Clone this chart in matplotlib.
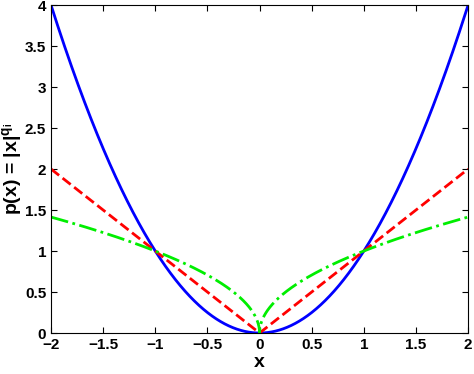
import numpy as np
import matplotlib
matplotlib.use('Agg')
import matplotlib.pyplot as plt

# exponents q_i of p(x) = |x|^q
exponents = [2.0, 1.0, 0.5]
colors = ['#0000ff', '#ff0000', '#00ee00']
styles = ['-', '--', '-.']
xTicks = [-2, -1.5, -1, -0.5, 0, 0.5, 1, 1.5, 2]
yTicks = [0, 0.5, 1, 1.5, 2, 2.5, 3, 3.5, 4]

plt.rcParams['font.family'] = ['Liberation Sans', 'DejaVu Sans']
plt.rcParams['font.weight'] = 'bold'
plt.rcParams['mathtext.fontset'] = 'custom'
plt.rcParams['mathtext.rm'] = 'Liberation Sans:bold'
plt.rcParams['mathtext.it'] = 'Liberation Sans:bold'
plt.rcParams['mathtext.bf'] = 'Liberation Sans:bold'

fig = plt.figure(figsize=(4.74, 3.74), dpi=100)
ax = fig.add_axes([0.1076, 0.1096, 0.880, 0.877])

x = np.linspace(-2, 2, 2001)
for q, c, s in zip(exponents, colors, styles):
    ax.plot(x, np.abs(x) ** q, color=c, linestyle=s, linewidth=2)

ax.set_xlim(-2, 2)
ax.set_ylim(0, 4)
ax.set_xticks(xTicks)
ax.set_yticks(yTicks)
ax.set_xticklabels(['\u22122', '\u22121.5', '\u22121', '\u22120.5', '0', '0.5', '1', '1.5', '2'])
ax.set_yticklabels(['0', '0.5', '1', '1.5', '2', '2.5', '3', '3.5', '4'])
ax.tick_params(direction='in', labelsize=11, length=4, top=True, right=True)
for lbl in ax.get_xticklabels() + ax.get_yticklabels():
    lbl.set_fontweight('bold')
ax.set_xlabel('x', fontsize=14, fontweight='bold')
ax.xaxis.set_label_coords(0.5, -0.065)
ax.set_ylabel('p(x) = |x|$^{q_i}$', fontsize=14, fontweight='bold')
ax.yaxis.set_label_coords(-0.065, 0.5)

fig.savefig('out.png', dpi=100)
